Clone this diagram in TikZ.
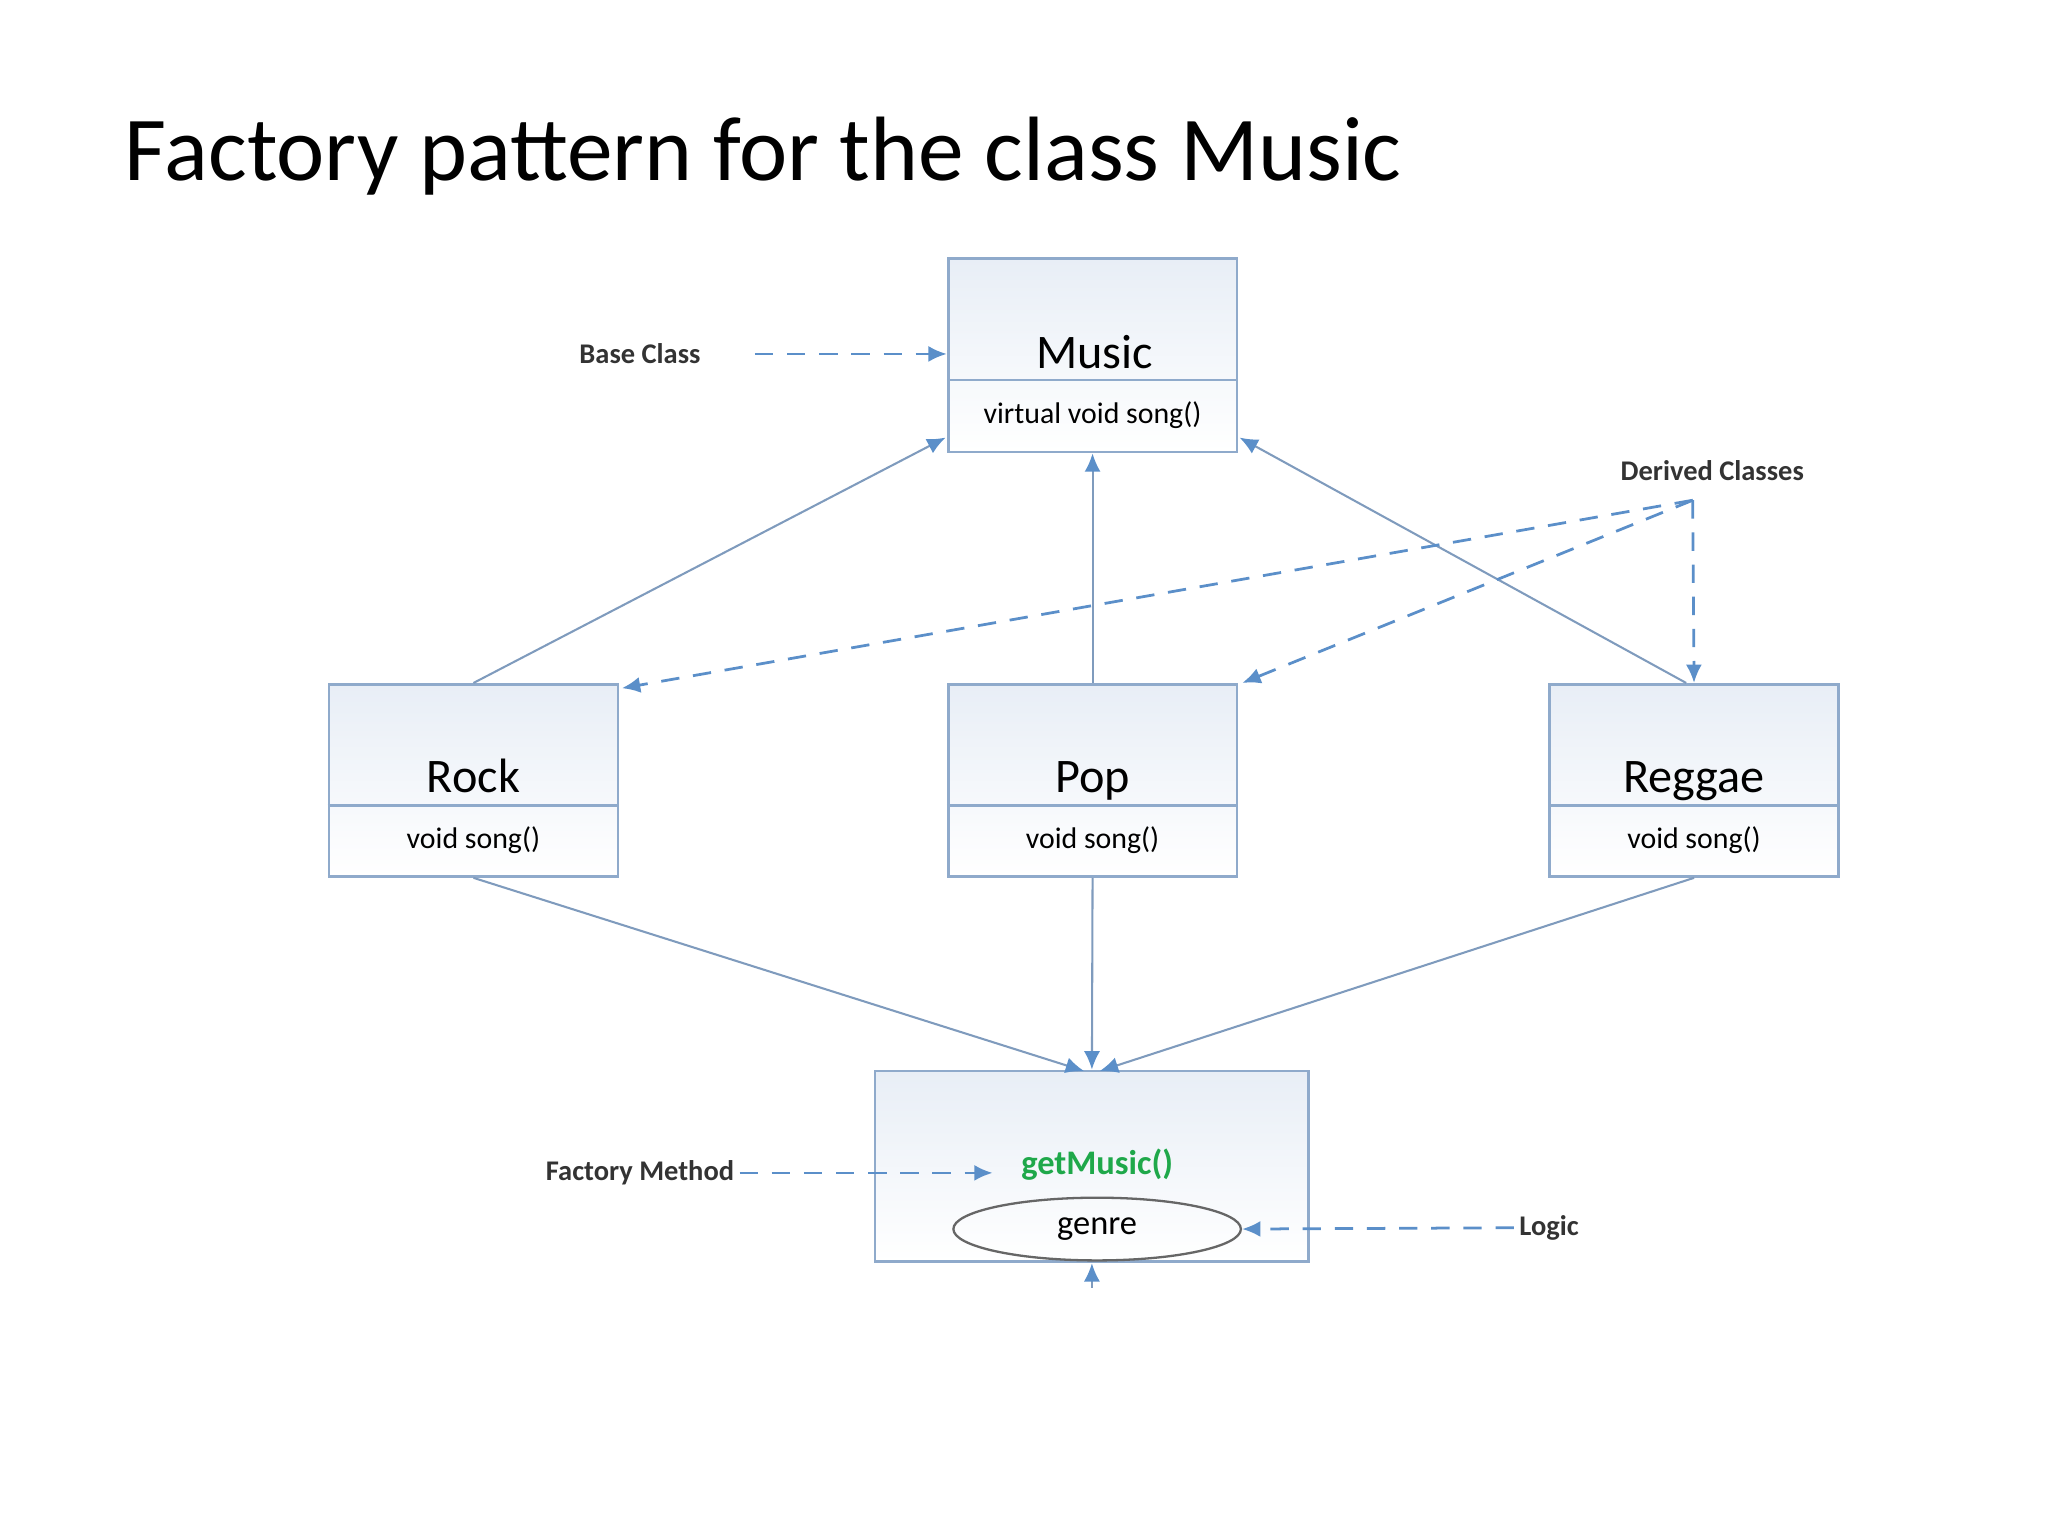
\documentclass[tikz,border=0pt]{standalone}
\usepackage{fontspec}
\setmainfont{Carlito}
\usetikzlibrary{arrows.meta,positioning,calc,shapes.geometric}
\definecolor{boxline}{HTML}{8FAACB}
\definecolor{boxtop}{HTML}{E8EEF6}
\definecolor{link}{HTML}{7F9BBD}
\definecolor{tip}{HTML}{5B8FC9}
\definecolor{green}{HTML}{1FA84A}
\tikzset{
  cls/.style={draw=boxline, line width=0.6pt, top color=boxtop, bottom color=white, minimum width=2.21cm, inner sep=0pt},
  rel/.style={draw=link, line width=0.45pt, -{Latex[length=4pt,width=3.5pt,color=tip]}},
  note/.style={rel, dashed, dash pattern=on 4pt off 3pt, line width=0.6pt, draw=tip},
  lbl/.style={font=\bfseries\fontsize{6.2}{7}\selectfont, text=black!80, inner sep=1pt}
}
\begin{document}
\begin{tikzpicture}[x=0.01cm,y=-0.01cm]
\useasboundingbox (0,0) rectangle (1568,1176);
\node[anchor=base west, font=\fontsize{19.9}{22}\selectfont, inner sep=0] (title) at (95,138) {Factory pattern for the class Music};

% classes
\node[cls, minimum height=1.48cm] (music) at (836.5,272) {};
\node[cls, minimum height=1.47cm] (rock) at (362.5,597.5) {};
\node[cls, minimum height=1.47cm] (pop) at (836.5,597.5) {};
\node[cls, minimum height=1.47cm] (reggae) at (1297,597.5) {};
\foreach \c/\d in {music/291,rock/617,pop/617,reggae/617}
  \draw[boxline, line width=0.6pt] (\c.west |- 0,\d) -- (\c.east |- 0,\d);
\node[anchor=base, font=\fontsize{10.5}{12}\selectfont] (musicname) at (838,282) {Music};
\node[font=\fontsize{6.5}{8}\selectfont] (musicop) at (836.5,318) {virtual void song()};
\foreach \c/\t in {rock/Rock,pop/Pop,reggae/Reggae}{
  \node[anchor=base, font=\fontsize{10.5}{12}\selectfont] (\c name) at ($(\c.north)+(0,84)$) {\t};
  \node[font=\fontsize{6.5}{8}\selectfont] (\c op) at ($(\c.north)+(0,120)$) {void song()};
}

% factory
\node[cls, minimum width=3.32cm, minimum height=1.46cm] (factory) at (836,893) {};
\node[font=\bfseries\fontsize{7.5}{9}\selectfont, text=green] (getmusic) at (840,892) {getMusic()};
\node[draw=black!60, line width=0.5pt, ellipse, minimum width=2.2cm, minimum height=0.48cm, inner sep=0pt, font=\fontsize{7.5}{9}\selectfont] (genre) at (840,941) {genre};
\coordinate (below) at (836,986);
\draw[rel] (below) -- (factory.south);

% inheritance
\coordinate (mrock) at (724,335);
\coordinate (mreggae) at (949,335);
\draw[rel] (rock.north) -- (mrock);
\draw[rel] (pop.north) -- (music.south);
\draw[rel] ($(reggae.north)+(-6,0)$) -- (mreggae);

% to factory
\coordinate (frock) at (830,820);
\coordinate (freggae) at (842,820);
\draw[rel] (rock.south) -- (frock);
\draw[rel] (pop.south) -- (factory.north);
\draw[rel] (reggae.south) -- (freggae);

% notes
\node[lbl] (base) at (490,271) {Base Class};
\coordinate (basearrow) at (578,271);
\draw[note] (basearrow) -- (music.west |- basearrow);

\node[lbl] (derived) at (1311,360) {Derived Classes};
\coordinate (fork) at (1296,383);
\draw[note] (fork) -- ($(rock.north east)+(2,4)$);
\draw[note] (fork) -- ($(pop.north east)+(3,0)$);
\draw[note] (fork) -- (reggae.north);

\node[lbl] (method) at (490,898) {Factory Method};
\draw[note] (method.east) -- (760,898);

\node[lbl] (logic) at (1186,940) {Logic};
\draw[note] (logic.west) -- (genre.east);
\end{tikzpicture}
\end{document}
